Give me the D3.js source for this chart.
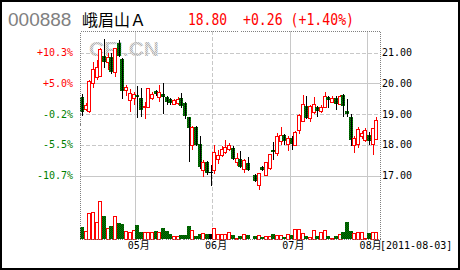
<!DOCTYPE html>
<html lang="zh">
<head>
    <meta charset="UTF-8">
    <title>000888 峨眉山Ａ</title>
    <script src="https://cdn.jsdelivr.net/npm/d3@7"></script>
    <style>
        html, body {
            margin: 0;
            padding: 0;
            background: #ffffff;
            overflow: hidden;
        }
        svg {
            display: block;
        }
        .mono {
            font-family: "DejaVu Sans Mono", "Noto Sans CJK SC", monospace;
            font-size: 10px;
        }
    </style>
</head>
<body>
<script>
    // 行情头部
    const stockCode = '000888';
    const stockName = '峨眉山Ａ';
    const lastPrice = '18.80';
    const priceChange = '+0.26 (+1.40%)';
    const lastDate = '[2011-08-03]';
    const basePrice = 19.04;

    // 坐标刻度
    const priceTicks = [21, 20, 19, 18, 17];
    const monthLabels = ['05月', '06月', '07月', '08月'];
    const monthStart = [15, 36, 57, 78];

    // 日K数据 (null = 停牌)
    const opens = [19.56, 19.17, 19.12, 20.00, 20.22, 20.24, 20.89, 20.71, 20.87, 20.38,
        21.31, 20.79, 19.78, 19.47, 19.52, 19.62, 19.54, 19.23, 19.23, 19.52,
        19.74, 19.56, 19.66, 19.55, 19.50, 19.33, 19.35, 19.52, 19.36, 18.90,
        18.00, 18.59, 18.03, 17.19, 17.44, 17.13, 17.19, 17.53, 17.66, 17.77,
        17.86, 17.90, 17.45, 17.53, 17.21, 17.40, null, 17.01, 16.71, 17.29,
        17.01, 17.24, 17.84, 17.73, 18.12, 18.31, 18.04, 18.24, 18.00, 18.49,
        18.79, 19.26, 18.87, 19.06, 19.23, 19.11, 19.23, 19.56, 19.41, 19.54,
        19.34, 19.62, 19.10, 18.91, 18.00, 18.03, 18.30, 18.15, 18.32, 18.04,
        18.19];
    const closes = [19.08, 19.30, 20.07, 20.46, 20.54, 21.11, 20.71, 20.85, 20.38, 21.14,
        20.90, 19.75, 19.88, 19.69, 19.65, 19.56, 19.13, 19.28, 19.84, 19.67,
        19.65, 19.71, 19.55, 19.40, 19.36, 19.47, 19.50, 19.28, 18.93, 18.54,
        18.59, 18.00, 17.29, 17.46, 17.10, 17.13, 17.77, 17.66, 17.86, 17.92,
        17.99, 17.55, 17.58, 17.27, 17.51, 17.19, null, 16.84, 17.08, 17.19,
        17.44, 17.70, 17.77, 18.29, 18.31, 18.12, 18.22, 18.02, 18.41, 18.97,
        19.32, 18.87, 19.26, 19.32, 19.12, 19.24, 19.58, 19.47, 19.54, 19.34,
        19.58, 19.26, 19.00, 18.17, 18.22, 18.52, 18.39, 18.49, 18.13, 18.54,
        18.80];
    const highs = [19.66, 19.36, 20.10, 20.71, 20.76, 21.15, 21.45, 20.98, 21.00, 21.16,
        21.40, 20.82, 19.95, 19.82, 19.72, 19.93, 19.84, 19.40, 19.86, 19.72,
        19.78, 19.95, 20.00, 19.58, 19.52, 19.50, 19.55, 19.69, 19.40, 18.92,
        18.62, 18.62, 18.30, 17.50, 17.48, 17.35, 18.00, 17.84, 17.95, 18.16,
        18.05, 17.95, 17.75, 17.80, 17.55, 17.60, null, 17.05, 17.10, 17.32,
        17.46, 17.72, 18.10, 18.40, 18.59, 18.35, 18.30, 18.28, 18.45, 19.00,
        19.62, 19.58, 19.30, 19.56, 19.26, 19.30, 19.71, 19.60, 19.58, 19.58,
        19.62, 19.65, 19.49, 19.00, 18.28, 18.58, 18.45, 18.55, 18.43, 18.56,
        18.91];
    const lows = [18.95, 19.10, 19.05, 19.85, 20.11, 20.20, 20.49, 20.44, 20.30, 20.22,
        20.85, 19.49, 19.60, 19.08, 19.30, 18.89, 18.91, 18.84, 19.20, 19.45,
        19.60, 19.41, 19.00, 19.30, 19.30, 19.30, 19.30, 19.19, 18.85, 17.45,
        17.84, 17.95, 17.22, 16.95, 17.02, 16.67, 17.05, 17.38, 17.60, 17.70,
        17.80, 17.50, 17.30, 17.25, 17.10, 17.15, null, 16.80, 16.53, 17.15,
        16.98, 17.20, 17.52, 17.65, 17.99, 18.00, 17.80, 17.85, 17.98, 18.35,
        18.75, 18.84, 18.76, 19.00, 18.91, 19.05, 19.20, 19.21, 19.35, 19.13,
        19.30, 18.91, 18.91, 17.98, 17.75, 17.89, 18.20, 18.10, 18.00, 17.67,
        18.15];
    // 成交量 (万手)
    const volumes = [11.7, 8.3, 26.0, 27.3, 17.3, 38.0, 23.3, 11.3, 13.3, 23.0,
        16.3, 14.7, 8.0, 7.3, 9.3, 14.3, 7.3, 6.7, 7.3, 7.3,
        8.3, 7.3, 11.0, 8.0, 5.3, 3.3, 3.5, 4.0, 4.0, 13.3,
        8.7, 2.7, 5.3, 6.0, 4.7, 5.3, 10.7, 5.3, 5.3, 5.3,
        6.7, 4.0, 1.0, 3.3, 5.3, 4.0, null, 3.3, 4.0, 2.0,
        2.7, 3.3, 5.3, 4.0, 4.0, 2.0, 4.7, 4.0, 10.0, 10.0,
        6.0, 3.3, 2.0, 8.7, 3.3, 6.7, 9.3, 3.3, 1.5, 2.7,
        5.3, 6.7, 17.3, 8.0, 6.0, 7.3, 6.7, 1.5, 6.0, 7.3,
        6.7];

    const RED = '#ff0000';
    const GREEN = '#008000';
    const GRID = '#c8c8c8';

    let width = 460;
    let height = 270;

    let svg = d3.select('body')
        .append('svg')
        .attr('width', width)
        .attr('height', height);

    // 下跌填充花纹
    let defs = svg.append('defs');
    let pat = defs.append('pattern')
        .attr('id', 'downFill')
        .attr('width', 2)
        .attr('height', 2)
        .attr('patternUnits', 'userSpaceOnUse');
    pat.append('rect').attr('width', 2).attr('height', 2).attr('fill', GREEN);
    pat.append('rect').attr('x', 0).attr('y', 0).attr('width', 1).attr('height', 1).attr('fill', '#004400');
    pat.append('rect').attr('x', 1).attr('y', 1).attr('width', 1).attr('height', 1).attr('fill', '#004400');

    // 水印花纹
    let wm = defs.append('pattern')
        .attr('id', 'wmFill')
        .attr('width', 2)
        .attr('height', 2)
        .attr('patternUnits', 'userSpaceOnUse');
    wm.append('rect').attr('width', 2).attr('height', 2).attr('fill', '#e2e2e2');
    wm.append('rect').attr('width', 1).attr('height', 1).attr('fill', '#b4b4b4');
    wm.append('rect').attr('x', 1).attr('y', 1).attr('width', 1).attr('height', 1).attr('fill', '#b4b4b4');

    // 外框
    svg.append('rect')
        .attr('x', 1).attr('y', 1)
        .attr('width', width - 2).attr('height', height - 2)
        .attr('fill', 'none')
        .attr('stroke', '#000')
        .attr('stroke-width', 2);

    // 比例尺
    let plot = {left: 80, right: 380, top: 31, bottom: 239};
    let x = d3.scaleBand()
        .domain(d3.range(opens.length))
        .range([80, 378]);
    let y = d3.scaleLinear()
        .domain([17, 21])
        .range([175.7, 52.7]);
    let v = d3.scaleLinear()
        .domain([0, 40])
        .range([plot.bottom, plot.bottom - 40]);

    // 头部文字
    svg.append('text')
        .attr('x', 8).attr('y', 26)
        .attr('fill', '#808080')
        .style('font-family', '"Liberation Sans", Arial, sans-serif')
        .style('font-size', '19px')
        .text(stockCode);
    svg.append('text')
        .attr('x', 82).attr('y', 26)
        .attr('fill', '#000')
        .style('font-family', '"Noto Sans CJK SC", sans-serif')
        .style('font-size', '16px')
        .text(stockName);
    svg.append('text')
        .attr('x', 188).attr('y', 25)
        .attr('fill', RED)
        .attr('textLength', 39)
        .attr('lengthAdjust', 'spacingAndGlyphs')
        .style('font-family', '"DejaVu Sans Mono", monospace')
        .style('font-size', '16px')
        .text(lastPrice);
    svg.append('text')
        .attr('x', 243).attr('y', 25)
        .attr('fill', RED)
        .attr('textLength', 111)
        .attr('lengthAdjust', 'spacingAndGlyphs')
        .style('font-family', '"DejaVu Sans Mono", monospace')
        .style('font-size', '16px')
        .text(priceChange);

    // 水印
    svg.append('text')
        .attr('x', 89).attr('y', 56)
        .attr('fill', 'url(#wmFill)')
        .style('font-family', '"Liberation Sans", Arial, sans-serif')
        .style('font-weight', 'bold')
        .style('font-size', '21px')
        .text('CFI.CN');

    // 网格
    let grid = svg.append('g').attr('shape-rendering', 'crispEdges');
    let dashedPrice = [21, 19, 18];
    grid.selectAll('.hgrid')
        .data(priceTicks)
        .enter().append('line')
        .attr('x1', plot.left).attr('x2', plot.right)
        .attr('y1', d => Math.round(y(d)) + 0.5)
        .attr('y2', d => Math.round(y(d)) + 0.5)
        .attr('stroke', GRID)
        .attr('stroke-dasharray', d => dashedPrice.includes(d) ? '4,2' : null);

    grid.selectAll('.vgrid')
        .data(monthStart)
        .enter().append('line')
        .attr('x1', d => Math.round(x(d)) + 0.5)
        .attr('x2', d => Math.round(x(d)) + 0.5)
        .attr('y1', plot.top).attr('y2', plot.bottom)
        .attr('stroke', GRID)
        .attr('stroke-dasharray', (d, i) => i === 1 ? '4,2' : null);

    // 左侧涨跌幅
    svg.selectAll('.pct')
        .data(priceTicks)
        .enter().append('text')
        .classed('mono', true)
        .attr('x', 73)
        .attr('y', d => y(d) + 3.5)
        .attr('text-anchor', 'end')
        .attr('fill', d => d > basePrice ? RED : GREEN)
        .text(d => {
            let p = (d / basePrice - 1) * 100;
            return (p > 0 ? '+' : '') + p.toFixed(1) + '%';
        });

    // 右侧价格
    svg.selectAll('.price')
        .data(priceTicks)
        .enter().append('text')
        .classed('mono', true)
        .attr('x', 382)
        .attr('y', d => y(d) + 3.5)
        .attr('fill', '#000')
        .text(d => d.toFixed(2));

    // 月份
    svg.selectAll('.month')
        .data(monthStart)
        .enter().append('text')
        .classed('mono', true)
        .attr('x', d => x(d) + x.step())
        .attr('y', 249)
        .attr('text-anchor', 'middle')
        .attr('fill', '#000')
        .text((d, i) => monthLabels[i]);
    svg.append('text')
        .classed('mono', true)
        .attr('x', 380)
        .attr('y', 249)
        .attr('fill', '#000')
        .text(lastDate);

    // K线
    let bars = d3.range(opens.length)
        .filter(i => opens[i] !== null)
        .map(i => ({i: i, o: opens[i], c: closes[i], h: highs[i], l: lows[i], vol: volumes[i]}));

    let k = svg.append('g').attr('shape-rendering', 'crispEdges');
    let bodyW = 4;

    bars.forEach(d => {
        let left = Math.round(x(d.i));
        let mid = left + 2;
        let yo = Math.round(y(d.o));
        let yc = Math.round(y(d.c));
        let yh = Math.round(y(d.h));
        let yl = Math.round(y(d.l));
        let yv = Math.round(v(d.vol));

        if (d.c > d.o) {
            k.append('line')
                .attr('x1', mid).attr('x2', mid)
                .attr('y1', yh).attr('y2', yl)
                .attr('stroke', RED);
            k.append('rect')
                .attr('x', left + 0.5).attr('y', yc + 0.5)
                .attr('width', bodyW - 1).attr('height', Math.max(yo - yc, 1))
                .attr('fill', '#fff')
                .attr('stroke', RED);
            k.append('rect')
                .attr('x', left + 0.5).attr('y', yv + 0.5)
                .attr('width', bodyW - 1).attr('height', plot.bottom - yv - 0.5)
                .attr('fill', '#fff')
                .attr('stroke', RED);
        } else if (d.c < d.o) {
            k.append('rect')
                .attr('x', left).attr('y', yo)
                .attr('width', bodyW).attr('height', Math.max(yc - yo, 1))
                .attr('fill', 'url(#downFill)');
            k.append('line')
                .attr('x1', mid).attr('x2', mid)
                .attr('y1', yh).attr('y2', yl)
                .attr('stroke', '#000');
            k.append('rect')
                .attr('x', left).attr('y', yv)
                .attr('width', bodyW).attr('height', plot.bottom - yv)
                .attr('fill', 'url(#downFill)');
        } else {
            k.append('line')
                .attr('x1', mid).attr('x2', mid)
                .attr('y1', yh).attr('y2', yl)
                .attr('stroke', '#000');
            k.append('line')
                .attr('x1', left).attr('x2', left + bodyW)
                .attr('y1', yo + 0.5).attr('y2', yo + 0.5)
                .attr('stroke', '#000');
            k.append('rect')
                .attr('x', left).attr('y', yv)
                .attr('width', bodyW).attr('height', plot.bottom - yv)
                .attr('fill', '#000');
        }
    });

    // 图表边框
    svg.append('rect')
        .attr('x', plot.left + 0.5).attr('y', plot.top + 0.5)
        .attr('width', plot.right - plot.left).attr('height', plot.bottom - plot.top)
        .attr('fill', 'none')
        .attr('stroke', '#808080')
        .attr('stroke-dasharray', '1,1')
        .attr('shape-rendering', 'crispEdges');
</script>
</body>
</html>
